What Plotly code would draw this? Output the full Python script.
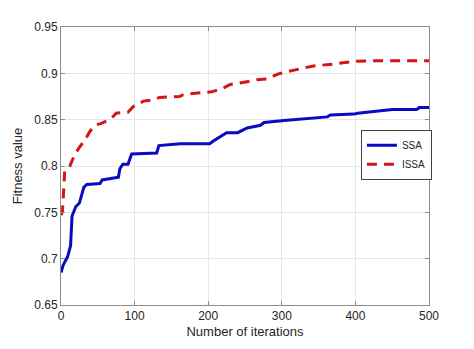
import plotly.graph_objects as go

# Convergence curves: best fitness per iteration
ssa_iter = [0, 3, 9, 13, 15, 20, 25, 31, 35, 53, 56, 78, 80, 84, 91, 96, 130, 133,
            162, 171, 202, 207, 213, 225, 240, 253, 271, 276, 303, 330, 362, 366,
            398, 403, 425, 450, 483, 487, 500]
ssa_fit = [0.685, 0.693, 0.702, 0.714, 0.746, 0.756, 0.760, 0.777, 0.780, 0.781,
           0.785, 0.788, 0.797, 0.802, 0.802, 0.813, 0.814, 0.822, 0.824, 0.824,
           0.824, 0.827, 0.830, 0.836, 0.836, 0.841, 0.844, 0.847, 0.849, 0.851,
           0.853, 0.855, 0.856, 0.857, 0.859, 0.861, 0.861, 0.863, 0.863]

issa_iter = [0, 2, 4, 5, 12, 19, 25, 34, 39, 46, 55, 68, 75, 91, 98, 112, 123, 134,
             161, 166, 189, 205, 220, 230, 239, 266, 280, 294, 303, 321, 343, 371,
             380, 398, 420, 500]
issa_fit = [0.747, 0.751, 0.779, 0.795, 0.800, 0.813, 0.820, 0.830, 0.837, 0.844,
            0.846, 0.851, 0.857, 0.858, 0.864, 0.870, 0.871, 0.874, 0.875, 0.877,
            0.879, 0.880, 0.884, 0.888, 0.889, 0.893, 0.894, 0.899, 0.901, 0.904,
            0.908, 0.910, 0.911, 0.913, 0.9135, 0.9135]

x_ticks = [0, 100, 200, 300, 400, 500]
y_ticks = [0.65, 0.7, 0.75, 0.8, 0.85, 0.9, 0.95]
y_tick_text = ["0.65", "0.7", "0.75", "0.8", "0.85", "0.9", "0.95"]

fig = go.Figure()
fig.add_trace(go.Scatter(x=ssa_iter, y=ssa_fit, mode="lines", name="SSA",
                         line=dict(color="#0a0ac0", width=3)))
fig.add_trace(go.Scatter(x=issa_iter, y=issa_fit, mode="lines", name="ISSA",
                         line=dict(color="#d41515", width=3, dash="10px,7px")))

axis_common = dict(
    showline=True, linecolor="#8c8c8c", linewidth=1, mirror="ticks",
    ticks="inside", ticklen=4, tickcolor="#8c8c8c",
    showgrid=True, gridcolor="#e6e6e6", gridwidth=1, zeroline=False,
    tickfont=dict(family="Liberation Sans, Arial", size=12, color="#262626"),
)

fig.update_xaxes(range=[0, 500], tickvals=x_ticks,
                 title=dict(text="Number of iterations", standoff=4,
                            font=dict(family="Liberation Sans, Arial", size=13, color="#262626")),
                 **axis_common)
fig.update_yaxes(range=[0.65, 0.95], tickvals=y_ticks, ticktext=y_tick_text,
                 title=dict(text="Fitness value", standoff=8,
                            font=dict(family="Liberation Sans, Arial", size=13, color="#262626")),
                 **axis_common)

fig.update_layout(
    width=474, height=349,
    margin=dict(l=61, r=45, t=27, b=38),
    paper_bgcolor="white", plot_bgcolor="white",
    showlegend=True,
    legend=dict(x=0.815, y=0.63, xanchor="left", yanchor="top",
                bgcolor="white", bordercolor="#404040", borderwidth=1,
                font=dict(family="Liberation Sans, Arial", size=10, color="#262626"),
                itemwidth=30, tracegroupgap=0),
)

fig.write_html("out.html")
